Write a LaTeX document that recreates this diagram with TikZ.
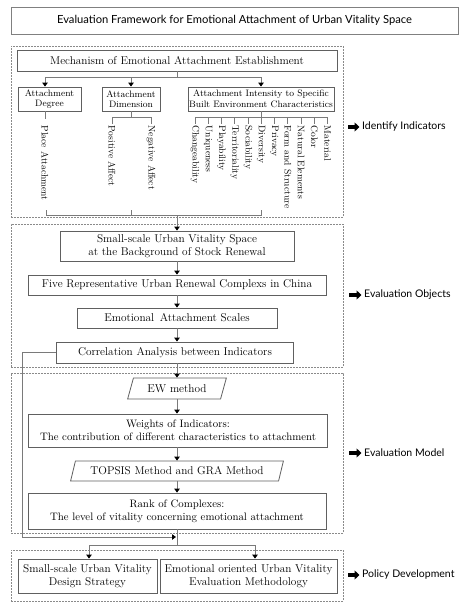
\documentclass[tikz,border=0pt]{standalone}
\usepackage{fontspec}
\usetikzlibrary{arrows.meta,shapes.geometric}
\newfontfamily\titlefont{Lato}
\definecolor{bordergray}{HTML}{606060}
\definecolor{linegray}{HTML}{7A7A7A}
\definecolor{dashgray}{HTML}{8A8A8A}
\begin{document}
\begin{tikzpicture}[x=1pt,y=-1pt,
  box/.style={draw=bordergray, line width=0.8pt, fill=white, inner sep=1pt, align=center, text=black},
  para/.style={box, trapezium, trapezium left angle=68, trapezium right angle=112, trapezium stretches=true},
  conn/.style={draw=linegray, line width=0.8pt},
  arr/.style={conn, -{Triangle[length=4pt,width=5.5pt,black]}},
  fatarr/.style={draw=black, line width=3.4pt, -{Triangle[length=5pt,width=9pt]}, shorten >=2.5pt},
  frame/.style={draw=dashgray, line width=0.6pt, dash pattern=on 1.6pt off 1.4pt, inner sep=0pt},
  vtext/.style={rotate=-90, anchor=west, inner sep=0pt, inner xsep=1.5pt, font=\fontsize{9.5}{10}\selectfont},
  side/.style={anchor=west, inner sep=0pt, font=\titlefont\fontsize{10.5}{12}\selectfont},
  big/.style={font=\fontsize{11.3}{13.5}\selectfont},
  mid/.style={font=\fontsize{10.8}{12.8}\selectfont},
  small/.style={font=\fontsize{9.3}{10.5}\selectfont}
]
\useasboundingbox (0,0) rectangle (474,608);

% title
\node[box, draw=gray, line width=0.6pt, minimum width=447pt, minimum height=27pt,
      font=\titlefont\fontsize{11.2}{13}\selectfont] (title) at (234.5,20.5)
      {Evaluation Framework for Emotional Attachment of Urban Vitality Space};

% frames
\node[frame, minimum width=332pt, minimum height=171pt] (f1) at (177,131.5) {};
\node[frame, minimum width=332pt, minimum height=143pt] (f2) at (177,295.5) {};
\node[frame, minimum width=332pt, minimum height=160pt] (f3) at (177,453) {};
\node[frame, minimum width=332pt, minimum height=51pt] (f4) at (177,575.5) {};

% side labels
\node[side] (l1) at (362,127) {Identify Indicators};
\node[side] (l2) at (364,295) {Evaluation Objects};
\node[side] (l3) at (364,453) {Evaluation Model};
\node[side] (l4) at (362,575) {Policy Development};
\coordinate (a1) at (348,127);
\coordinate (a2) at (349,295);
\coordinate (a3) at (349,453);
\coordinate (a4) at (348,575);
\draw[fatarr] (a1) -- (l1.west);
\draw[fatarr] (a2) -- (l2.west);
\draw[fatarr] (a3) -- (l3.west);
\draw[fatarr] (a4) -- (l4.west);

% section 1
\node[box, big, minimum width=320pt, minimum height=21pt] (mech) at (177,60.5)
  {Mechanism of Emotional Attachment Establishment};
\node[box, small, minimum width=63pt, minimum height=24pt] (deg) at (49.5,99) {Attachment\\Degree};
\node[box, small, minimum width=58pt, minimum height=24pt] (dim) at (131,99) {Attachment\\Dimension};
\node[box, small, minimum width=145pt, minimum height=24pt] (int) at (261,99)
  {Attachment Intensity to Specific\\Built Environment Characteristics};

\coordinate (b0) at (177,77);
\coordinate (bL) at (45,77);
\coordinate (bM) at (131,77);
\coordinate (bR) at (261,77);
\draw[conn] (mech.south) -- (b0);
\draw[conn] (bL) -- (bR);
\draw[arr] (bL) -- (bL |- deg.north);
\draw[arr] (bM) -- (dim.north);
\draw[arr] (bR) -- (int.north);

\node[vtext] (pa) at (45,124) {Place Attachment};
\node[vtext] (pos) at (112,124) {Positive Affect};
\node[vtext] (neg) at (151,124) {Negative Affect};
\draw[conn] (pa.west |- deg.south) -- (45,119);

\coordinate (dj) at (131,117.5);
\draw[conn] (dim.south) -- (dj);
\draw[conn] (pos.west) -- (pos.west |- dj) -- (neg.west |- dj) -- (neg.west);

\foreach \t [count=\i from 0] in {Changeability,Uniqueness,Playability,Territoriality,Sociability,Diversity,Privacy,Form and Structure,Natural Elements,Color,Material}
  \node[vtext] (c\i) at ({195+13.25*\i},124) {\t};
\coordinate (ij) at (261,117.5);
\draw[conn] (int.south) -- (ij);
\draw[conn] (c0.west |- ij) -- (c10.west |- ij);
\foreach \i in {0,...,10} \draw[conn] (c\i.west |- ij) -- (c\i.west);

% bracket
\coordinate (k0) at (177,215);
\coordinate (kL) at (46,215);
\coordinate (kM) at (131,215);
\coordinate (kR) at (261,215);
\draw[conn] (46,210) -- (kL) -- (kR) -- (261,210);
\draw[conn] (131,210) -- (kM);

% section 2
\node[box, big, minimum width=234pt, minimum height=30pt] (sv) at (177,246)
  {Small-scale Urban Vitality Space\\at the Background of Stock Renewal};
\node[box, big, minimum width=298pt, minimum height=20pt] (five) at (177,285)
  {Five Representative Urban Renewal Complexs in China};
\node[box, big, minimum width=200pt, minimum height=20pt] (scales) at (177,318)
  {Emotional\, Attachment Scales};
\node[box, big, minimum width=237pt, minimum height=21pt] (corr) at (175,352.5)
  {Correlation Analysis between Indicators};
\draw[arr] (k0) -- (sv.north);
\draw[arr] (sv.south) -- (five.north);
\draw[arr] (five.south) -- (scales.north);
\draw[arr] (scales.south) -- (scales.south |- corr.north);

% section 3
\node[box, para, big, minimum width=99pt, minimum height=21pt] (ew) at (177,388.5) {EW method};
\node[box, mid, minimum width=299pt, minimum height=33pt] (wts) at (178,430.5)
  {Weights of Indicators:\\The contribution of different characteristics to attachment};
\node[box, para, big, minimum width=213pt, minimum height=20pt] (top) at (177,471) {TOPSIS Method and GRA Method};
\node[box, mid, minimum width=298pt, minimum height=36pt] (rank) at (177,511)
  {Rank of Complexes:\\The level of vitality concerning emotional attachment};
\draw[arr] (corr.south -| ew.north) -- (ew.north);
\draw[arr] (ew.south) -- (ew.south |- wts.north);
\draw[arr] (wts.south -| top.north) -- (top.north);
\draw[arr] (top.south) -- (top.south |- rank.north);

% loop
\coordinate (lp1) at (22,352.5);
\coordinate (lp2) at (22,537);
\coordinate (lp3) at (176,537);
\draw[arr] (corr.west) -- (lp1) -- (lp2) -- (lp3);

% section 4
\node[box, big, minimum width=139pt, minimum height=34pt] (ds) at (87.5,576)
  {Small-scale Urban Vitality\\Design Strategy};
\node[box, big, minimum width=177pt, minimum height=34pt] (em) at (248.5,576)
  {Emotional oriented Urban Vitality\\Evaluation Methodology};
\coordinate (r0) at (177,545);
\coordinate (rL) at (89,545);
\coordinate (rR) at (255,545);
\draw[conn] (rank.south) -- (r0);
\draw[conn] (rL) -- (rR);
\draw[arr] (rL) -- (rL |- ds.north);
\draw[arr] (rR) -- (rR |- em.north);
\end{tikzpicture}
\end{document}
